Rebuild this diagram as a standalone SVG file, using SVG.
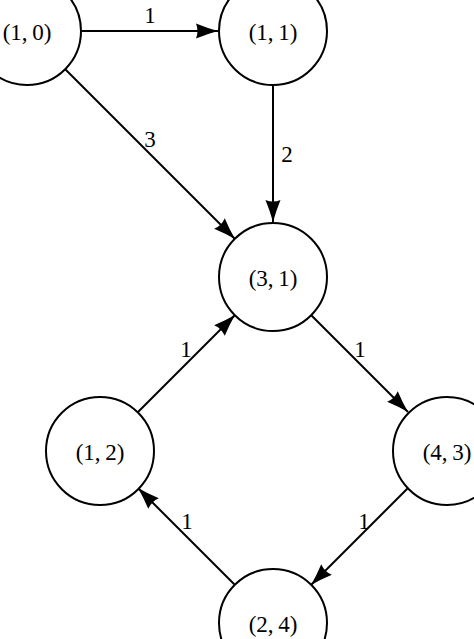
<svg xmlns="http://www.w3.org/2000/svg" width="474" height="639" viewBox="0 0 474 639">
  <style>
    .node circle { fill: #ffffff; stroke: #000000; stroke-width: 2; }
    .node text { font-family: "Liberation Serif", "DejaVu Serif", serif; font-size: 23px; text-anchor: middle; fill: #000000; }
    .edge line { stroke: #000000; stroke-width: 2; marker-end: url(#arrow); }
    .edge text { font-family: "Liberation Serif", "DejaVu Serif", serif; font-size: 23px; text-anchor: middle; fill: #000000; }
  </style>
  <defs>
    <!-- filled arrowhead with slightly curved sides -->
    <marker id="arrow" markerUnits="userSpaceOnUse" markerWidth="24" markerHeight="18" refX="22" refY="8.5" orient="auto">
      <path d="M0,1 Q11,5.5 22,8.5 Q11,11.5 0,16 Q3,8.5 0,1 Z" fill="#000000"/>
    </marker>
  </defs>
  <rect width="474" height="639" fill="#ffffff"/>

  <!-- connectors -->
  <g id="edges">
    <g class="edge" id="e-10-11">
      <line x1="81" y1="31" x2="218" y2="31"/>
      <text x="150" y="23">1</text>
    </g>
    <g class="edge" id="e-11-31">
      <line x1="273" y1="85" x2="273" y2="222"/>
      <text x="287" y="162">2</text>
    </g>
    <g class="edge" id="e-10-31">
      <line x1="65" y1="69" x2="235" y2="239"/>
      <text x="150" y="147">3</text>
    </g>
    <g class="edge" id="e-12-31">
      <line x1="138" y1="412" x2="235" y2="315"/>
      <text x="186" y="357">1</text>
    </g>
    <g class="edge" id="e-31-43">
      <line x1="311" y1="315" x2="408" y2="412"/>
      <text x="360" y="357">1</text>
    </g>
    <g class="edge" id="e-43-24">
      <line x1="408" y1="488" x2="311" y2="585"/>
      <text x="364" y="529">1</text>
    </g>
    <g class="edge" id="e-24-12">
      <line x1="235" y1="585" x2="138" y2="488"/>
      <text x="187" y="529">1</text>
    </g>
  </g>

  <!-- nodes -->
  <g class="node" id="n-1-0">
    <circle cx="27" cy="31" r="54"/>
    <text x="27" y="40">(1,&#8201;0)</text>
  </g>
  <g class="node" id="n-1-1">
    <circle cx="273" cy="31" r="54"/>
    <text x="273" y="40">(1,&#8201;1)</text>
  </g>
  <g class="node" id="n-3-1">
    <circle cx="273" cy="277" r="54"/>
    <text x="273" y="286">(3,&#8201;1)</text>
  </g>
  <g class="node" id="n-1-2">
    <circle cx="100" cy="451" r="54"/>
    <text x="100" y="460">(1,&#8201;2)</text>
  </g>
  <g class="node" id="n-4-3">
    <circle cx="447" cy="451" r="54"/>
    <text x="447" y="460">(4,&#8201;3)</text>
  </g>
  <g class="node" id="n-2-4">
    <circle cx="273" cy="623" r="54"/>
    <text x="273" y="632">(2,&#8201;4)</text>
  </g>
</svg>
